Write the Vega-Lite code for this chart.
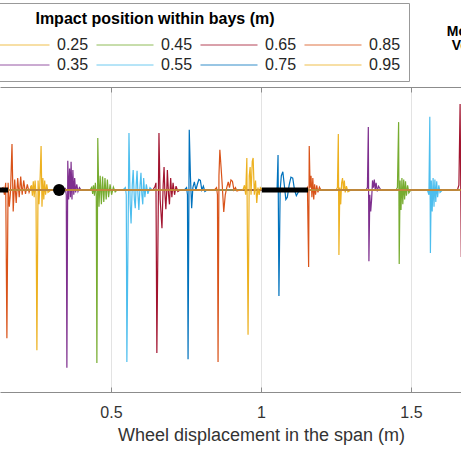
{
  "$schema": "https://vega.github.io/schema/vega-lite/v6.json",
  "width": 461,
  "height": 305,
  "autosize": {"type": "none"},
  "padding": {"left": 0, "top": 87, "right": 0, "bottom": 69},
  "background": "white",
  "config": {"view": {"stroke": null}, "font": "Liberation Sans"},
  "title": {"text": ["Mode", "Vert"], "anchor": "start", "align": "center", "dx": 465, "dy": 50, "fontSize": 14, "fontWeight": "bold", "color": "#000000", "lineHeight": 14, "baseline": "top", "frame": "group", "offset": 0},
  "resolve": {"axis": {"x": "independent"}},
  "layer": [
    {
      "data": {"values": [
        {"s":"0.05","x":0.13,"y":0},{"s":"0.05","x":1.05,"y":0},{"s":"0.05","x":1.054,"y":0.05},{"s":"0.05","x":1.057,"y":0.73},{"s":"0.05","x":1.06,"y":-2.22},{"s":"0.05","x":1.064,"y":0.0},{"s":"0.05","x":1.068,"y":0.3},{"s":"0.05","x":1.073,"y":0.38},{"s":"0.05","x":1.078,"y":0.1},{"s":"0.05","x":1.083,"y":-0.2},{"s":"0.05","x":1.088,"y":-0.15},{"s":"0.05","x":1.094,"y":0.1},{"s":"0.05","x":1.1,"y":0.27},{"s":"0.05","x":1.106,"y":0.25},{"s":"0.05","x":1.112,"y":0.0},{"s":"0.05","x":1.118,"y":-0.12},{"s":"0.05","x":1.124,"y":-0.05},{"s":"0.05","x":1.13,"y":0},{"s":"0.05","x":1.667,"y":0},

        {"s":"0.15","x":0.13,"y":0},{"s":"0.15","x":0.14,"y":0.05},{"s":"0.15","x":0.145,"y":-0.1},{"s":"0.15","x":0.149,"y":0.15},{"s":"0.15","x":0.153,"y":-3.1},{"s":"0.15","x":0.157,"y":0.15},{"s":"0.15","x":0.161,"y":-0.35},{"s":"0.15","x":0.165,"y":-0.05},{"s":"0.15","x":0.17,"y":0.96},{"s":"0.15","x":0.174,"y":-0.45},{"s":"0.15","x":0.179,"y":0.22},{"s":"0.15","x":0.184,"y":-0.27},{"s":"0.15","x":0.189,"y":0.25},{"s":"0.15","x":0.194,"y":-0.15},{"s":"0.15","x":0.199,"y":0.28},{"s":"0.15","x":0.204,"y":-0.1},{"s":"0.15","x":0.209,"y":0.2},{"s":"0.15","x":0.215,"y":-0.08},{"s":"0.15","x":0.221,"y":0.12},{"s":"0.15","x":0.227,"y":-0.05},{"s":"0.15","x":0.233,"y":0.06},{"s":"0.15","x":0.24,"y":0},
        {"s":"0.15","x":1.15,"y":0},{"s":"0.15","x":1.155,"y":0.05},{"s":"0.15","x":1.159,"y":-1.61},{"s":"0.15","x":1.161,"y":0.92},{"s":"0.15","x":1.164,"y":0.05},{"s":"0.15","x":1.167,"y":0.3},{"s":"0.15","x":1.17,"y":-0.15},{"s":"0.15","x":1.173,"y":0.25},{"s":"0.15","x":1.176,"y":-0.2},{"s":"0.15","x":1.179,"y":0.12},{"s":"0.15","x":1.182,"y":-0.1},{"s":"0.15","x":1.186,"y":0.1},{"s":"0.15","x":1.19,"y":-0.05},{"s":"0.15","x":1.195,"y":0.06},{"s":"0.15","x":1.2,"y":0},{"s":"0.15","x":1.667,"y":0},

        {"s":"0.25","x":0.13,"y":0},{"s":"0.25","x":0.23,"y":0},{"s":"0.25","x":0.235,"y":0.1},{"s":"0.25","x":0.238,"y":-0.12},{"s":"0.25","x":0.241,"y":0.18},{"s":"0.25","x":0.244,"y":-0.15},{"s":"0.25","x":0.247,"y":0.2},{"s":"0.25","x":0.25,"y":-0.1},{"s":"0.25","x":0.253,"y":-3.35},{"s":"0.25","x":0.257,"y":0.2},{"s":"0.25","x":0.26,"y":-0.3},{"s":"0.25","x":0.264,"y":0.3},{"s":"0.25","x":0.267,"y":0.92},{"s":"0.25","x":0.27,"y":-0.35},{"s":"0.25","x":0.273,"y":0.25},{"s":"0.25","x":0.276,"y":-0.2},{"s":"0.25","x":0.279,"y":0.2},{"s":"0.25","x":0.282,"y":-0.1},{"s":"0.25","x":0.286,"y":0.12},{"s":"0.25","x":0.29,"y":-0.05},{"s":"0.25","x":0.3,"y":0},
        {"s":"0.25","x":1.25,"y":0},{"s":"0.25","x":1.255,"y":0.05},{"s":"0.25","x":1.258,"y":1.17},{"s":"0.25","x":1.26,"y":-1.36},{"s":"0.25","x":1.263,"y":0.05},{"s":"0.25","x":1.266,"y":-0.3},{"s":"0.25","x":1.269,"y":0.15},{"s":"0.25","x":1.272,"y":0.25},{"s":"0.25","x":1.275,"y":0},{"s":"0.25","x":1.278,"y":0.2},{"s":"0.25","x":1.281,"y":-0.05},{"s":"0.25","x":1.285,"y":0.08},{"s":"0.25","x":1.29,"y":-0.04},{"s":"0.25","x":1.3,"y":0},{"s":"0.25","x":1.667,"y":0},

        {"s":"0.35","x":0.13,"y":0},{"s":"0.35","x":0.34,"y":0},{"s":"0.35","x":0.348,"y":0.03},{"s":"0.35","x":0.351,"y":-0.1},{"s":"0.35","x":0.353,"y":-3.72},{"s":"0.35","x":0.356,"y":0.61},{"s":"0.35","x":0.359,"y":-0.2},{"s":"0.35","x":0.362,"y":0.45},{"s":"0.35","x":0.365,"y":-0.15},{"s":"0.35","x":0.367,"y":0.59},{"s":"0.35","x":0.37,"y":-0.2},{"s":"0.35","x":0.373,"y":0.42},{"s":"0.35","x":0.376,"y":-0.1},{"s":"0.35","x":0.379,"y":0.25},{"s":"0.35","x":0.382,"y":-0.05},{"s":"0.35","x":0.386,"y":0.12},{"s":"0.35","x":0.39,"y":-0.03},{"s":"0.35","x":0.395,"y":0.05},{"s":"0.35","x":0.4,"y":0},
        {"s":"0.35","x":1.35,"y":0},{"s":"0.35","x":1.355,"y":0.05},{"s":"0.35","x":1.358,"y":1.32},{"s":"0.35","x":1.36,"y":-1.49},{"s":"0.35","x":1.363,"y":-0.1},{"s":"0.35","x":1.366,"y":-0.45},{"s":"0.35","x":1.369,"y":-0.2},{"s":"0.35","x":1.372,"y":0.2},{"s":"0.35","x":1.375,"y":0.05},{"s":"0.35","x":1.378,"y":0.22},{"s":"0.35","x":1.381,"y":0},{"s":"0.35","x":1.384,"y":0.15},{"s":"0.35","x":1.388,"y":-0.03},{"s":"0.35","x":1.392,"y":0.08},{"s":"0.35","x":1.4,"y":0},{"s":"0.35","x":1.667,"y":0},

        {"s":"0.45","x":0.13,"y":0},{"s":"0.45","x":0.43,"y":0},{"s":"0.45","x":0.436,"y":0.06},{"s":"0.45","x":0.439,"y":-0.08},{"s":"0.45","x":0.442,"y":0.1},{"s":"0.45","x":0.445,"y":-0.12},{"s":"0.45","x":0.448,"y":0.15},{"s":"0.45","x":0.451,"y":-0.1},{"s":"0.45","x":0.453,"y":-3.62},{"s":"0.45","x":0.456,"y":1.09},{"s":"0.45","x":0.46,"y":-0.35},{"s":"0.45","x":0.464,"y":0.3},{"s":"0.45","x":0.468,"y":-0.3},{"s":"0.45","x":0.472,"y":0.28},{"s":"0.45","x":0.476,"y":-0.25},{"s":"0.45","x":0.48,"y":0.25},{"s":"0.45","x":0.484,"y":-0.2},{"s":"0.45","x":0.488,"y":0.22},{"s":"0.45","x":0.492,"y":-0.15},{"s":"0.45","x":0.497,"y":0.12},{"s":"0.45","x":0.502,"y":-0.1},{"s":"0.45","x":0.508,"y":0.06},{"s":"0.45","x":0.514,"y":-0.04},{"s":"0.45","x":0.52,"y":0},
        {"s":"0.45","x":1.45,"y":0},{"s":"0.45","x":1.455,"y":0.05},{"s":"0.45","x":1.459,"y":1.42},{"s":"0.45","x":1.461,"y":-1.55},{"s":"0.45","x":1.464,"y":0.2},{"s":"0.45","x":1.467,"y":-0.42},{"s":"0.45","x":1.47,"y":0.25},{"s":"0.45","x":1.473,"y":-0.3},{"s":"0.45","x":1.476,"y":0.22},{"s":"0.45","x":1.479,"y":-0.2},{"s":"0.45","x":1.482,"y":0.18},{"s":"0.45","x":1.485,"y":-0.12},{"s":"0.45","x":1.489,"y":0.1},{"s":"0.45","x":1.493,"y":-0.06},{"s":"0.45","x":1.5,"y":0},{"s":"0.45","x":1.667,"y":0},

        {"s":"0.55","x":0.13,"y":0},{"s":"0.55","x":0.54,"y":0},{"s":"0.55","x":0.548,"y":0.05},{"s":"0.55","x":0.551,"y":-0.1},{"s":"0.55","x":0.553,"y":-3.6},{"s":"0.55","x":0.56,"y":1.19},{"s":"0.55","x":0.564,"y":-0.3},{"s":"0.55","x":0.567,"y":-0.7},{"s":"0.55","x":0.571,"y":0.1},{"s":"0.55","x":0.574,"y":0.42},{"s":"0.55","x":0.578,"y":-0.2},{"s":"0.55","x":0.581,"y":-0.38},{"s":"0.55","x":0.584,"y":0.1},{"s":"0.55","x":0.587,"y":0.4},{"s":"0.55","x":0.59,"y":-0.1},{"s":"0.55","x":0.593,"y":-0.42},{"s":"0.55","x":0.597,"y":0.1},{"s":"0.55","x":0.6,"y":0.36},{"s":"0.55","x":0.603,"y":-0.1},{"s":"0.55","x":0.606,"y":-0.3},{"s":"0.55","x":0.609,"y":0.25},{"s":"0.55","x":0.613,"y":-0.15},{"s":"0.55","x":0.618,"y":0.12},{"s":"0.55","x":0.623,"y":-0.08},{"s":"0.55","x":0.63,"y":0.05},{"s":"0.55","x":0.637,"y":0},
        {"s":"0.55","x":1.555,"y":0},{"s":"0.55","x":1.56,"y":-0.1},{"s":"0.55","x":1.563,"y":1.53},{"s":"0.55","x":1.565,"y":-1.32},{"s":"0.55","x":1.568,"y":0.2},{"s":"0.55","x":1.571,"y":-0.45},{"s":"0.55","x":1.574,"y":0.25},{"s":"0.55","x":1.577,"y":-0.35},{"s":"0.55","x":1.58,"y":0.22},{"s":"0.55","x":1.583,"y":-0.25},{"s":"0.55","x":1.586,"y":0.18},{"s":"0.55","x":1.589,"y":-0.15},{"s":"0.55","x":1.593,"y":0.1},{"s":"0.55","x":1.597,"y":-0.05},{"s":"0.55","x":1.605,"y":0},{"s":"0.55","x":1.667,"y":0},

        {"s":"0.65","x":0.13,"y":0},{"s":"0.65","x":0.64,"y":0},{"s":"0.65","x":0.647,"y":0.08},{"s":"0.65","x":0.65,"y":0.15},{"s":"0.65","x":0.653,"y":-3.41},{"s":"0.65","x":0.66,"y":1.19},{"s":"0.65","x":0.664,"y":-0.2},{"s":"0.65","x":0.67,"y":-0.8},{"s":"0.65","x":0.674,"y":0.1},{"s":"0.65","x":0.677,"y":0.48},{"s":"0.65","x":0.68,"y":-0.1},{"s":"0.65","x":0.683,"y":-0.4},{"s":"0.65","x":0.686,"y":0.0},{"s":"0.65","x":0.688,"y":0.42},{"s":"0.65","x":0.692,"y":-0.1},{"s":"0.65","x":0.695,"y":-0.3},{"s":"0.65","x":0.699,"y":0.25},{"s":"0.65","x":0.703,"y":-0.15},{"s":"0.65","x":0.707,"y":0.15},{"s":"0.65","x":0.712,"y":-0.1},{"s":"0.65","x":0.717,"y":0.08},{"s":"0.65","x":0.723,"y":-0.03},{"s":"0.65","x":0.73,"y":0},
        {"s":"0.65","x":1.655,"y":0},{"s":"0.65","x":1.66,"y":0.1},{"s":"0.65","x":1.664,"y":1.8},{"s":"0.65","x":1.668,"y":-1.4},{"s":"0.65","x":1.672,"y":0.3},

        {"s":"0.75","x":0.13,"y":0},{"s":"0.75","x":0.745,"y":0},{"s":"0.75","x":0.752,"y":0.05},{"s":"0.75","x":0.755,"y":-0.1},{"s":"0.75","x":0.757,"y":-3.54},{"s":"0.75","x":0.761,"y":1.26},{"s":"0.75","x":0.765,"y":0.27},{"s":"0.75","x":0.769,"y":-0.38},{"s":"0.75","x":0.773,"y":0.05},{"s":"0.75","x":0.778,"y":0.17},{"s":"0.75","x":0.783,"y":0.0},{"s":"0.75","x":0.788,"y":0.12},{"s":"0.75","x":0.793,"y":0.22},{"s":"0.75","x":0.798,"y":0.2},{"s":"0.75","x":0.803,"y":0.0},{"s":"0.75","x":0.808,"y":0.08},{"s":"0.75","x":0.813,"y":-0.03},{"s":"0.75","x":0.82,"y":0},{"s":"0.75","x":1.667,"y":0},

        {"s":"0.85","x":0.13,"y":0},{"s":"0.85","x":0.845,"y":0},{"s":"0.85","x":0.852,"y":0.05},{"s":"0.85","x":0.855,"y":-0.1},{"s":"0.85","x":0.857,"y":-3.6},{"s":"0.85","x":0.86,"y":0.3},{"s":"0.85","x":0.863,"y":0.84},{"s":"0.85","x":0.867,"y":0.48},{"s":"0.85","x":0.871,"y":0.1},{"s":"0.85","x":0.876,"y":-0.46},{"s":"0.85","x":0.881,"y":-0.1},{"s":"0.85","x":0.886,"y":0.05},{"s":"0.85","x":0.891,"y":0.17},{"s":"0.85","x":0.895,"y":0.05},{"s":"0.85","x":0.9,"y":0.21},{"s":"0.85","x":0.905,"y":0.18},{"s":"0.85","x":0.91,"y":0.0},{"s":"0.85","x":0.915,"y":0.05},{"s":"0.85","x":0.92,"y":-0.02},{"s":"0.85","x":0.93,"y":0},{"s":"0.85","x":1.667,"y":0},

        {"s":"0.95","x":0.13,"y":0},{"s":"0.95","x":0.94,"y":0},{"s":"0.95","x":0.945,"y":0.1},{"s":"0.95","x":0.949,"y":-0.1},{"s":"0.95","x":0.953,"y":0.67},{"s":"0.95","x":0.957,"y":-3.03},{"s":"0.95","x":0.961,"y":0.3},{"s":"0.95","x":0.964,"y":0.48},{"s":"0.95","x":0.967,"y":-0.1},{"s":"0.95","x":0.971,"y":0.6},{"s":"0.95","x":0.974,"y":0.67},{"s":"0.95","x":0.978,"y":-0.1},{"s":"0.95","x":0.982,"y":0.2},{"s":"0.95","x":0.986,"y":-0.27},{"s":"0.95","x":0.99,"y":0.05},{"s":"0.95","x":0.994,"y":-0.1},{"s":"0.95","x":0.998,"y":0.05},{"s":"0.95","x":1.005,"y":0},{"s":"0.95","x":1.667,"y":0}
      ]},
      "mark": {"type": "line", "strokeWidth": 1.2, "clip": true},
      "encoding": {
        "x": {"field": "x", "type": "quantitative",
          "scale": {"domain": [0.13, 1.667], "nice": false, "zero": false},
          "axis": {"orient": "bottom", "values": [0.5, 1, 1.5], "format": "~g", "grid": true, "gridColor": "#e3e3e3", "domainColor": "#8c8c8c", "tickColor": "#8c8c8c", "tickSize": -5, "labelFontSize": 16, "labelColor": "#333333", "labelPadding": 17, "labelFont": "Liberation Sans",
            "title": "Wheel displacement in the span (m)", "titleFontSize": 18, "titleFontWeight": "normal", "titleColor": "#333333", "titleFont": "Liberation Sans", "titleX": 261, "titleY": 48, "titleBaseline": "alphabetic", "titleAlign": "center", "titleAnchor": null}},
        "y": {"field": "y", "type": "quantitative",
          "scale": {"domain": [-4.226, 2.155], "nice": false, "zero": false},
          "axis": {"values": [-4, -3, -2, -1, 0, 1, 2], "grid": true, "gridColor": "#e3e3e3", "labels": false, "ticks": false, "domain": false, "title": null}},
        "color": {"field": "s", "type": "nominal",
          "scale": {"domain": ["0.05", "0.25", "0.45", "0.65", "0.85", "0.15", "0.35", "0.55", "0.75", "0.95"],
                    "range": ["#0072BD", "#EDB120", "#77AC30", "#A2142F", "#D95319", "#D95319", "#7E2F8E", "#4DBEEE", "#0072BD", "#EDB120"]},
          "legend": {"orient": "none", "legendX": -99, "legendY": -84, "columns": 5, "direction": "horizontal", "gridAlign": "all",
            "title": "Impact position within bays (m)", "titleFontSize": 16, "titleFontWeight": "bold", "titleColor": "#000000", "titleAnchor": "middle", "titlePadding": 10, "titleFont": "Liberation Sans", "titleLimit": 600,
            "labelFontSize": 16, "labelColor": "#262626", "labelOffset": 28, "labelFont": "Liberation Sans", "labelLimit": 100,
            "symbolType": "M-5,0H5", "symbolSize": 130, "symbolStrokeWidth": 1, "symbolOpacity": 0.8,
            "columnPadding": 5, "rowPadding": 4, "padding": 8, "strokeColor": "#999999", "fillColor": "#ffffff"}}
      }
    },
    {
      "data": {"values": [{"x0": 0.0, "x1": 0.157, "y": 0}, {"x0": 1.003, "x1": 1.157, "y": 0}]},
      "mark": {"type": "rule", "strokeWidth": 5, "color": "#000000", "clip": true, "strokeCap": "butt"},
      "encoding": {
        "x": {"field": "x0", "type": "quantitative", "axis": {"orient": "top", "values": [0.5, 1, 1.5], "grid": false, "labels": false, "title": null, "domainColor": "#8c8c8c", "tickColor": "#8c8c8c", "tickSize": -5}},
        "x2": {"field": "x1"},
        "y": {"field": "y", "type": "quantitative", "axis": null}
      }
    },
    {
      "data": {"values": [{"x": 0.327, "y": 0}]},
      "mark": {"type": "circle", "size": 144, "color": "#000000", "opacity": 1, "clip": true},
      "encoding": {
        "x": {"field": "x", "type": "quantitative", "axis": null},
        "y": {"field": "y", "type": "quantitative", "axis": null}
      }
    }
  ]
}
